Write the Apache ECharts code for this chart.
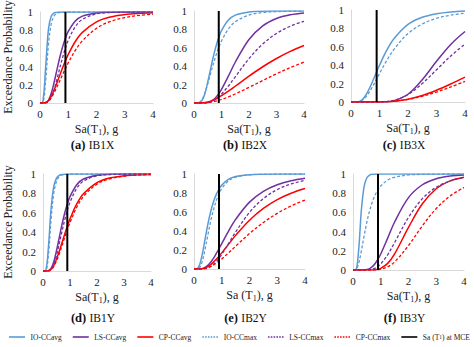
<!DOCTYPE html>
<html>
<head>
<meta charset="utf-8">
<script src="https://cdn.jsdelivr.net/npm/echarts@6/dist/echarts.min.js"></script>
<style>
  html, body { margin: 0; padding: 0; background: #fff; }
  #chart { width: 474px; height: 347px; }
</style>
</head>
<body>
<div id="chart"></div>
<script>
// Spectral acceleration sample points, g
const SA = [0, 0.1, 0.2, 0.3, 0.4, 0.5, 0.6, 0.7, 0.8, 0.9, 1.0, 1.25, 1.5, 2.0, 2.5, 3.0, 3.5, 4.0];
// Sa(T1) at the MCE level, g
const MCE_SA = 0.9;

const X_TICKS = [0, 1, 2, 3, 4];
const Y_TICKS = [0, 0.2, 0.4, 0.6, 0.8, 1];

const CURVE_NAMES = ['IO-CCavg', 'LS-CCavg', 'CP-CCavg', 'IO-CCmax', 'LS-CCmax', 'CP-CCmax'];
const MCE_NAME = 'Sa (T1) at MCE';
const PANEL_TAGS = ['(a)', '(b)', '(c)', '(d)', '(e)', '(f)'];
const PANEL_NAMES = ['IB1X', 'IB2X', 'IB3X', 'IB1Y', 'IB2Y', 'IB3Y'];

// IB1X exceedance probabilities
const IB1X_IO_AVG = [0, 0.012, 0.393, 0.812, 0.956, 0.990, 0.998, 0.999, 1, 1, 1, 1, 1, 1, 1, 1, 1, 1];
const IB1X_LS_AVG = [0, 0, 0.003, 0.030, 0.107, 0.228, 0.366, 0.5, 0.617, 0.712, 0.786, 0.901, 0.955, 0.990, 0.998, 0.999, 1, 1];
const IB1X_CP_AVG = [0, 0, 0.005, 0.027, 0.075, 0.142, 0.222, 0.305, 0.387, 0.464, 0.534, 0.676, 0.776, 0.892, 0.946, 0.972, 0.985, 0.992];
const IB1X_IO_MAX = [0, 0.006, 0.245, 0.647, 0.872, 0.957, 0.986, 0.995, 0.998, 0.999, 1, 1, 1, 1, 1, 1, 1, 1];
const IB1X_LS_MAX = [0, 0, 0.001, 0.015, 0.062, 0.148, 0.261, 0.383, 0.5, 0.603, 0.690, 0.839, 0.919, 0.979, 0.994, 0.998, 1, 1];
const IB1X_CP_MAX = [0, 0, 0.004, 0.023, 0.060, 0.113, 0.176, 0.244, 0.312, 0.379, 0.442, 0.578, 0.683, 0.821, 0.897, 0.939, 0.962, 0.976];

// IB2X
const IB2X_IO_AVG = [0, 0, 0.003, 0.030, 0.107, 0.228, 0.366, 0.5, 0.617, 0.712, 0.786, 0.901, 0.955, 0.990, 0.998, 0.999, 1, 1];
const IB2X_LS_AVG = [0, 0, 0, 0, 0.001, 0.005, 0.015, 0.033, 0.062, 0.101, 0.148, 0.292, 0.443, 0.690, 0.839, 0.919, 0.959, 0.979];
const IB2X_CP_AVG = [0, 0, 0, 0.002, 0.005, 0.011, 0.020, 0.031, 0.045, 0.061, 0.079, 0.128, 0.182, 0.292, 0.394, 0.484, 0.561, 0.625];
const IB2X_IO_MAX = [0, 0, 0.007, 0.041, 0.112, 0.209, 0.316, 0.421, 0.518, 0.603, 0.674, 0.804, 0.882, 0.956, 0.983, 0.993, 0.997, 0.999];
const IB2X_LS_MAX = [0, 0, 0, 0, 0.001, 0.005, 0.013, 0.025, 0.044, 0.067, 0.096, 0.184, 0.285, 0.482, 0.641, 0.756, 0.835, 0.888];
const IB2X_CP_MAX = [0, 0, 0, 0.001, 0.002, 0.005, 0.009, 0.014, 0.021, 0.029, 0.038, 0.066, 0.098, 0.170, 0.244, 0.317, 0.384, 0.445];

// IB3X
const IB3X_IO_AVG = [0, 0, 0.001, 0.007, 0.027, 0.065, 0.118, 0.183, 0.255, 0.328, 0.399, 0.560, 0.685, 0.843, 0.921, 0.959, 0.979, 0.988];
const IB3X_LS_AVG = [0, 0, 0, 0, 0, 0, 0, 0, 0, 0, 0, 0.003, 0.012, 0.084, 0.242, 0.442, 0.626, 0.766];
const IB3X_CP_AVG = [0, 0, 0, 0, 0, 0, 0, 0, 0, 0, 0.001, 0.003, 0.008, 0.031, 0.071, 0.128, 0.196, 0.270];
const IB3X_IO_MAX = [0, 0, 0.001, 0.006, 0.021, 0.049, 0.088, 0.137, 0.192, 0.250, 0.309, 0.449, 0.569, 0.744, 0.848, 0.909, 0.944, 0.965];
const IB3X_LS_MAX = [0, 0, 0, 0, 0, 0, 0, 0, 0, 0, 0.001, 0.005, 0.017, 0.081, 0.200, 0.350, 0.5, 0.630];
const IB3X_CP_MAX = [0, 0, 0, 0, 0, 0, 0, 0, 0, 0, 0.001, 0.004, 0.008, 0.028, 0.062, 0.108, 0.164, 0.224];

// IB1Y
const IB1Y_IO_AVG = [0, 0.006, 0.245, 0.647, 0.872, 0.957, 0.986, 0.995, 0.998, 0.999, 1, 1, 1, 1, 1, 1, 1, 1];
const IB1Y_LS_AVG = [0, 0, 0.002, 0.026, 0.096, 0.209, 0.342, 0.475, 0.593, 0.690, 0.767, 0.890, 0.948, 0.988, 0.997, 0.999, 1, 1];
const IB1Y_CP_AVG = [0, 0, 0.002, 0.018, 0.058, 0.122, 0.202, 0.289, 0.377, 0.461, 0.537, 0.691, 0.796, 0.912, 0.961, 0.982, 0.991, 0.995];
const IB1Y_IO_MAX = [0, 0.003, 0.165, 0.536, 0.802, 0.924, 0.972, 0.990, 0.996, 0.999, 1, 1, 1, 1, 1, 1, 1, 1];
const IB1Y_LS_MAX = [0, 0, 0.001, 0.017, 0.069, 0.161, 0.280, 0.404, 0.522, 0.625, 0.709, 0.852, 0.927, 0.982, 0.995, 0.999, 1, 1];
const IB1Y_CP_MAX = [0, 0, 0.002, 0.014, 0.048, 0.104, 0.176, 0.258, 0.343, 0.424, 0.5, 0.657, 0.769, 0.896, 0.952, 0.977, 0.989, 0.994];

// IB2Y
const IB2Y_IO_AVG = [0, 0.001, 0.041, 0.159, 0.317, 0.472, 0.603, 0.705, 0.783, 0.841, 0.883, 0.945, 0.973, 0.993, 0.998, 1, 1, 1];
const IB2Y_LS_AVG = [0, 0, 0, 0.004, 0.016, 0.038, 0.071, 0.112, 0.161, 0.213, 0.268, 0.402, 0.522, 0.704, 0.818, 0.887, 0.929, 0.955];
const IB2Y_CP_AVG = [0, 0, 0.001, 0.004, 0.012, 0.026, 0.046, 0.072, 0.102, 0.135, 0.170, 0.262, 0.354, 0.514, 0.638, 0.731, 0.798, 0.848];
const IB2Y_IO_MAX = [0, 0, 0.014, 0.083, 0.209, 0.358, 0.5, 0.621, 0.718, 0.792, 0.847, 0.929, 0.967, 0.992, 0.998, 1, 1, 1];
const IB2Y_LS_MAX = [0, 0, 0, 0.001, 0.004, 0.011, 0.026, 0.048, 0.077, 0.113, 0.154, 0.270, 0.389, 0.596, 0.741, 0.836, 0.896, 0.933];
const IB2Y_CP_MAX = [0, 0, 0, 0.002, 0.007, 0.015, 0.027, 0.042, 0.061, 0.083, 0.106, 0.171, 0.240, 0.373, 0.489, 0.586, 0.664, 0.726];

// IB3Y
const IB3Y_IO_AVG = [0, 0.002, 0.196, 0.618, 0.869, 0.961, 0.989, 0.997, 0.999, 1, 1, 1, 1, 1, 1, 1, 1, 1];
const IB3Y_LS_AVG = [0, 0, 0, 0, 0.001, 0.005, 0.015, 0.035, 0.067, 0.112, 0.167, 0.332, 0.5, 0.754, 0.888, 0.951, 0.978, 0.990];
const IB3Y_CP_AVG = [0, 0, 0, 0, 0, 0, 0, 0.001, 0.003, 0.008, 0.017, 0.069, 0.168, 0.444, 0.690, 0.846, 0.928, 0.967];
const IB3Y_IO_MAX = [0, 0.004, 0.063, 0.197, 0.355, 0.5, 0.619, 0.712, 0.783, 0.836, 0.876, 0.937, 0.966, 0.990, 0.996, 0.999, 1, 1];
const IB3Y_LS_MAX = [0, 0, 0, 0, 0, 0.001, 0.003, 0.009, 0.020, 0.038, 0.063, 0.159, 0.286, 0.548, 0.743, 0.862, 0.927, 0.962];
const IB3Y_CP_MAX = [0, 0, 0, 0, 0, 0, 0, 0, 0.002, 0.004, 0.008, 0.034, 0.084, 0.255, 0.460, 0.640, 0.771, 0.859];

const PANEL_CURVES = [
  [IB1X_IO_AVG, IB1X_LS_AVG, IB1X_CP_AVG, IB1X_IO_MAX, IB1X_LS_MAX, IB1X_CP_MAX],
  [IB2X_IO_AVG, IB2X_LS_AVG, IB2X_CP_AVG, IB2X_IO_MAX, IB2X_LS_MAX, IB2X_CP_MAX],
  [IB3X_IO_AVG, IB3X_LS_AVG, IB3X_CP_AVG, IB3X_IO_MAX, IB3X_LS_MAX, IB3X_CP_MAX],
  [IB1Y_IO_AVG, IB1Y_LS_AVG, IB1Y_CP_AVG, IB1Y_IO_MAX, IB1Y_LS_MAX, IB1Y_CP_MAX],
  [IB2Y_IO_AVG, IB2Y_LS_AVG, IB2Y_CP_AVG, IB2Y_IO_MAX, IB2Y_LS_MAX, IB2Y_CP_MAX],
  [IB3Y_IO_AVG, IB3Y_LS_AVG, IB3Y_CP_AVG, IB3Y_IO_MAX, IB3Y_LS_MAX, IB3Y_CP_MAX]
];

// ---- layout and styling ----
const FONT = '"Liberation Serif", "DejaVu Serif", serif';
const BLUE = '#5B9BD5', PURPLE = '#7030A0', RED = '#FF0000';
const CURVE_STYLES = [
  { color: BLUE, type: 'solid', width: 1.5 },
  { color: PURPLE, type: 'solid', width: 1.5 },
  { color: RED, type: 'solid', width: 1.5 },
  { color: BLUE, type: [3, 2], width: 1.3 },
  { color: PURPLE, type: [3, 2], width: 1.3 },
  { color: RED, type: [3, 2], width: 1.3 }
];
const GRIDS = [
  { left: 40, top: 12, width: 113, height: 91 },
  { left: 194, top: 11, width: 110, height: 92 },
  { left: 351, top: 10, width: 114, height: 92 },
  { left: 43, top: 174, width: 108, height: 97 },
  { left: 194, top: 174, width: 111, height: 95 },
  { left: 353, top: 174, width: 111, height: 96 }
];
const CAPTION_Y = [145, 145, 145, 318, 318, 318];
const X_NAMES = [
  '{n|Sa(T}{s|1}{n|), g}', '{n|Sa(T}{s|1}{n|), g}', '{n|Sa(T}{s|1}{n|), g}',
  '{n|Sa(T}{s|1}{n|), g}', '{n|Sa (T}{s|1}{n|), g}', '{n|Sa(T}{s|1}{n|), g}'
];

// legend glyphs: a thin bar for solid curves, a row of short dashes for dashed curves
const ICON_SOLID = 'path://M0,0H20V2H0Z';
const ICON_DASHED = 'path://M0,0H2V2H0ZM3.5,0H5.5V2H3.5ZM7,0H9V2H7ZM10.5,0H12.5V2H10.5ZM14,0H16V2H14ZM17.5,0H19.5V2H17.5Z';

const subRich = {
  n: { fontFamily: FONT, fontSize: 12, color: '#222', lineHeight: 14 },
  s: { fontFamily: FONT, fontSize: 8, color: '#222', lineHeight: 8, verticalAlign: 'bottom' }
};

const grid = [], xAxis = [], yAxis = [], series = [], graphic = [];

GRIDS.forEach((g, i) => {
  grid.push(Object.assign({ containLabel: false }, g));
  xAxis.push({
    type: 'value', gridIndex: i, min: X_TICKS[0], max: X_TICKS[X_TICKS.length - 1], interval: 1,
    axisLine: { show: true, lineStyle: { color: '#d9d9d9', width: 1 } },
    axisTick: { show: false }, splitLine: { show: false },
    axisLabel: { fontFamily: FONT, fontSize: 11, color: '#222', margin: 5 },
    name: X_NAMES[i], nameLocation: 'middle', nameGap: 19,
    nameTextStyle: { rich: subRich }
  });
  yAxis.push({
    type: 'value', gridIndex: i, min: Y_TICKS[0], max: Y_TICKS[Y_TICKS.length - 1], interval: 0.2,
    axisLine: { show: true, lineStyle: { color: '#d9d9d9', width: 1 } },
    axisTick: { show: false }, splitLine: { show: false },
    axisLabel: { fontFamily: FONT, fontSize: 11, color: '#222', margin: 7 }
  });

  PANEL_CURVES[i].forEach((vals, k) => {
    const st = CURVE_STYLES[k];
    series.push({
      type: 'line', name: CURVE_NAMES[k], xAxisIndex: i, yAxisIndex: i,
      data: SA.map((x, j) => [x, vals[j]]),
      showSymbol: false, symbol: 'none', smooth: 0.35,
      color: st.color,
      lineStyle: { color: st.color, type: st.type, width: st.width },
      z: 2, silent: true
    });
  });

  series.push({
    type: 'line', name: MCE_NAME, xAxisIndex: i, yAxisIndex: i,
    data: [[MCE_SA, Y_TICKS[0]], [MCE_SA, Y_TICKS[Y_TICKS.length - 1]]],
    showSymbol: false, symbol: 'none', color: '#000',
    lineStyle: { color: '#000', width: 2 }, z: 4, silent: true
  });

  graphic.push({
    type: 'text',
    x: g.left + g.width / 2 - 4, y: CAPTION_Y[i],
    style: {
      text: '{b|' + PANEL_TAGS[i] + '} {r|' + PANEL_NAMES[i] + '}',
      textAlign: 'center', textVerticalAlign: 'middle',
      rich: {
        b: { fontFamily: FONT, fontSize: 12.5, fontWeight: 'bold', fill: '#111' },
        r: { fontFamily: FONT, fontSize: 11.5, fill: '#111' }
      }
    }
  });
});

// shared y-axis titles for the two rows
[57, 222].forEach(cy => {
  graphic.push({
    type: 'text', x: 8, y: cy, rotation: Math.PI / 2,
    style: {
      text: 'Exceedance Probability', textAlign: 'center', textVerticalAlign: 'middle',
      fontFamily: FONT, fontSize: 12, fill: '#222'
    }
  });
});

const legendData = CURVE_NAMES.map((n, k) => ({
  name: n, icon: CURVE_STYLES[k].type === 'solid' ? ICON_SOLID : ICON_DASHED
})).concat([{ name: MCE_NAME, icon: ICON_SOLID }]);

const option = {
  animation: false,
  backgroundColor: '#fff',
  grid, xAxis, yAxis, series, graphic,
  legend: {
    data: legendData,
    left: 9, top: 333, width: 466, itemWidth: 21, itemHeight: 1.6, itemGap: 11,
    padding: 0,
    formatter: name => name === MCE_NAME ? 'Sa (T{ls|1}) at MCE' : name,
    textStyle: {
      fontFamily: FONT, fontSize: 7.5, color: '#222', padding: [0, 0, 0, -2],
      rich: { ls: { fontFamily: FONT, fontSize: 5.5, color: '#222' } }
    }
  }
};

const chart = echarts.init(document.getElementById('chart'), null, { renderer: 'svg' });
chart.setOption(option);
</script>
</body>
</html>
